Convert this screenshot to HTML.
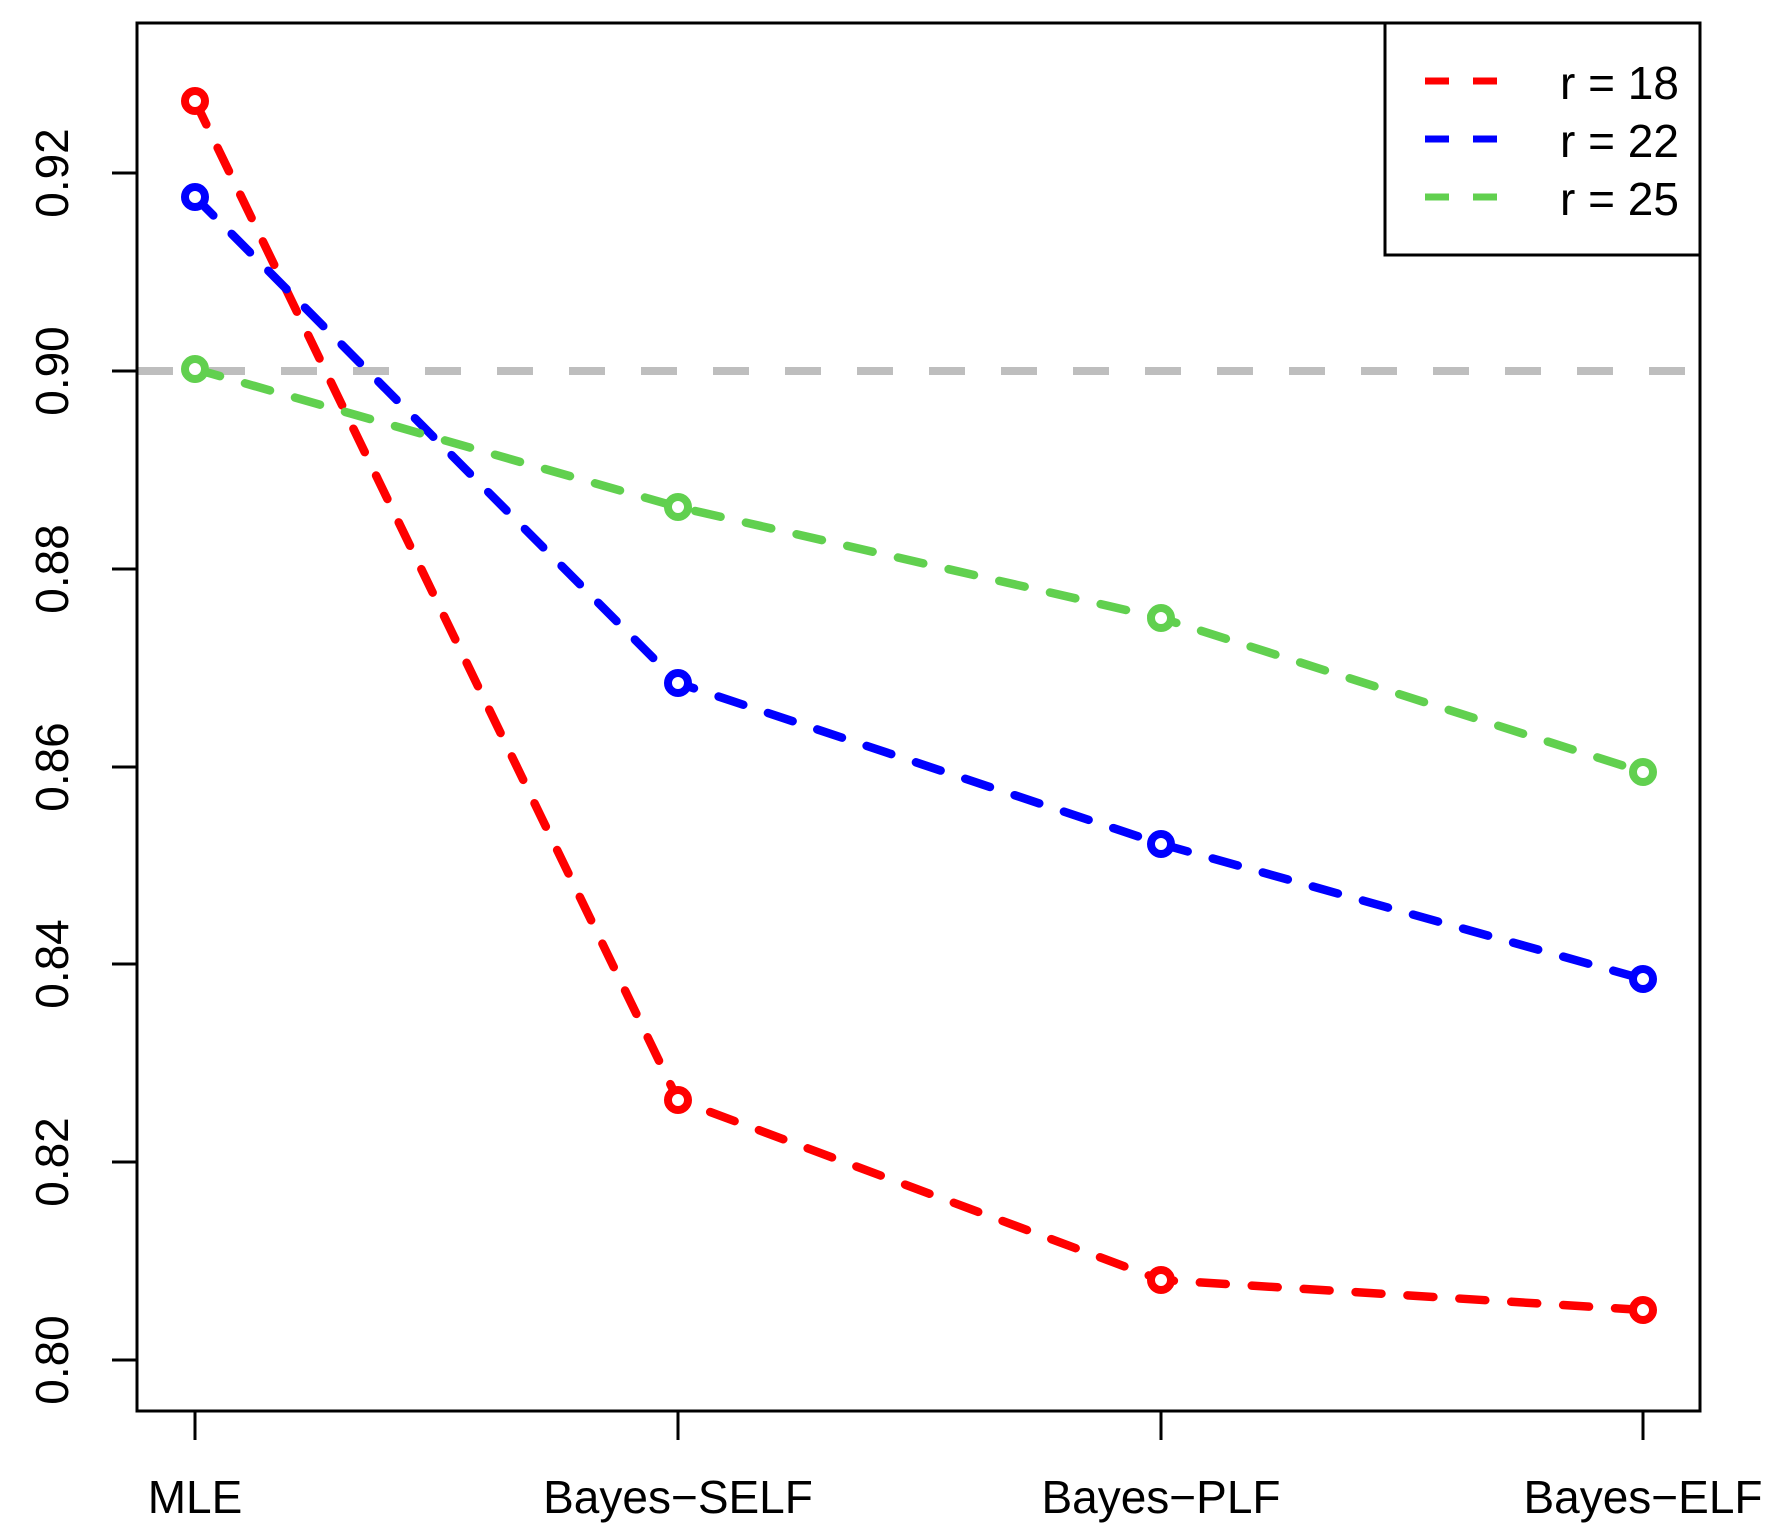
<!DOCTYPE html>
<html><head><meta charset="utf-8"><style>body{margin:0;background:#fff}svg{display:block}</style></head><body>
<svg width="1787" height="1538" xmlns="http://www.w3.org/2000/svg" font-family="Liberation Sans, sans-serif">
<rect width="1787" height="1538" fill="#fff"/>
<line x1="137" y1="371" x2="1700" y2="371" stroke="#bebebe" stroke-width="8" stroke-dasharray="36,36"/>
<g fill="none" stroke-width="8.5" stroke-dasharray="26,26" stroke-linecap="round">
<polyline points="195,101 678,1100 1161,1280 1643,1310" stroke="#ff0000"/>
<polyline points="195,197 678,683 1161,844 1643,979" stroke="#0000ff"/>
<polyline points="195,369 678,507 1161,618 1643,772" stroke="#61d04f"/>
</g>
<g fill="#fff" stroke-width="8">
<g stroke="#ff0000"><circle cx="195" cy="101" r="10"/><circle cx="678" cy="1100" r="10"/><circle cx="1161" cy="1280" r="10"/><circle cx="1643" cy="1310" r="10"/></g>
<g stroke="#0000ff"><circle cx="195" cy="197" r="10"/><circle cx="678" cy="683" r="10"/><circle cx="1161" cy="844" r="10"/><circle cx="1643" cy="979" r="10"/></g>
<g stroke="#61d04f"><circle cx="195" cy="369" r="10"/><circle cx="678" cy="507" r="10"/><circle cx="1161" cy="618" r="10"/><circle cx="1643" cy="772" r="10"/></g>
</g>
<rect x="137" y="23" width="1563" height="1388" fill="none" stroke="#000" stroke-width="3"/>
<g stroke="#000" stroke-width="3">
<line x1="137" y1="173" x2="112" y2="173"/><line x1="137" y1="371" x2="112" y2="371"/><line x1="137" y1="569" x2="112" y2="569"/><line x1="137" y1="767" x2="112" y2="767"/><line x1="137" y1="964" x2="112" y2="964"/><line x1="137" y1="1162" x2="112" y2="1162"/><line x1="137" y1="1360" x2="112" y2="1360"/>
<line x1="195" y1="1411" x2="195" y2="1440"/><line x1="678" y1="1411" x2="678" y2="1440"/><line x1="1161" y1="1411" x2="1161" y2="1440"/><line x1="1643" y1="1411" x2="1643" y2="1440"/>
</g>
<g font-size="46" text-anchor="middle" fill="#000">
<text transform="translate(68,173) rotate(-90)">0.92</text>
<text transform="translate(68,371) rotate(-90)">0.90</text>
<text transform="translate(68,569) rotate(-90)">0.88</text>
<text transform="translate(68,767) rotate(-90)">0.86</text>
<text transform="translate(68,964) rotate(-90)">0.84</text>
<text transform="translate(68,1162) rotate(-90)">0.82</text>
<text transform="translate(68,1360) rotate(-90)">0.80</text>
<text x="195" y="1513">MLE</text>
<text x="678" y="1513">Bayes−SELF</text>
<text x="1161" y="1513">Bayes−PLF</text>
<text x="1643" y="1513">Bayes−ELF</text>
</g>
<rect x="1385" y="23" width="315" height="232" fill="#fff" stroke="#000" stroke-width="3"/>
<g stroke-width="7" stroke-dasharray="24,24">
<line x1="1425" y1="81" x2="1497" y2="81" stroke="#ff0000"/>
<line x1="1425" y1="139" x2="1497" y2="139" stroke="#0000ff"/>
<line x1="1425" y1="197" x2="1497" y2="197" stroke="#61d04f"/>
</g>
<g font-size="46" fill="#000">
<text x="1560" y="99">r = 18</text>
<text x="1560" y="157">r = 22</text>
<text x="1560" y="215">r = 25</text>
</g>
</svg>
</body></html>
